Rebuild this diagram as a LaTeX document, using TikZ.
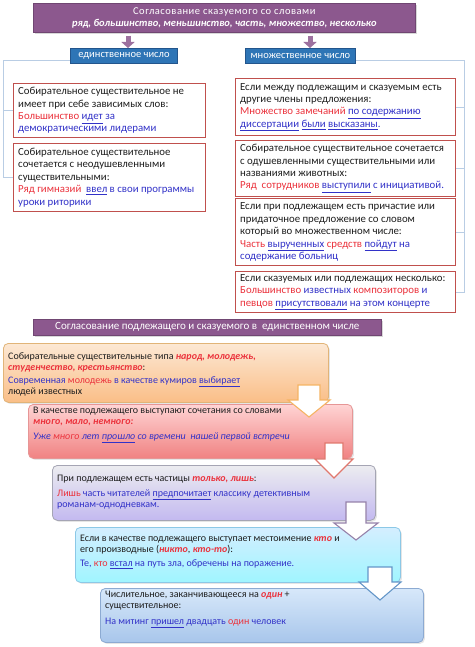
\documentclass[tikz,border=0pt]{standalone}
\usepackage{fontspec}
\setmainfont{Carlito}
\usetikzlibrary{shadows,arrows.meta}
\definecolor{hdrpurple}{RGB}{140,88,142}
\definecolor{lblblue}{RGB}{46,117,182}
\definecolor{lblborder}{RGB}{35,85,140}
\definecolor{brk}{RGB}{185,205,228}
\definecolor{boxred}{RGB}{192,80,77}
\definecolor{txtred}{RGB}{235,50,60}
\definecolor{txtblue}{RGB}{50,50,200}
\definecolor{txtdark}{RGB}{30,30,30}
\newcommand{\myred}[1]{\textcolor{txtred}{#1}}
\newcommand{\myblue}[1]{\textcolor{txtblue}{#1}}
\newcommand{\myri}[1]{\textcolor{txtred}{\textbf{\textit{#1}}}}
\newcommand{\myul}[1]{\textcolor{txtblue}{\underline{#1}}}
\begin{document}
\begin{tikzpicture}[x=1pt,y=-1pt,
  hdr/.style={fill=hdrpurple, draw=hdrpurple!80!black, line width=0.6pt, text=white, align=center, anchor=north west, inner sep=0pt,
    drop shadow={opacity=0.3, shadow xshift=2pt, shadow yshift=-2pt}},
  lbl/.style={fill=lblblue, draw=lblborder, line width=0.8pt, text=white, anchor=north west, inner sep=0pt, font=\fontsize{10.5}{12}\selectfont},
  ubox/.style={draw=boxred, line width=1.1pt, fill=white, anchor=north west, inner sep=0pt},
  utext/.style={anchor=west, inner sep=0pt, align=left, font=\fontsize{10.8}{12.4}\selectfont, text=txtdark},
  brkline/.style={draw=brk, line width=1pt},
  parrow/.style={draw=hdrpurple!85!white, line width=5pt, -{Triangle[width=13pt,length=6pt]}},
  lbox/.style={rounded corners=5pt, line width=0.8pt, anchor=north west, inner sep=0pt,
    drop shadow={opacity=0.2, shadow xshift=1.5pt, shadow yshift=-1.5pt}},
  ltext/.style={anchor=north west, inner sep=0pt, align=left, font=\fontsize{10}{11}\selectfont, text=txtdark},
  barrow/.style={fill=white, line width=1.1pt, line join=miter}
]
\useasboundingbox (0,0) rectangle (474,647);
\fill[white] (0,0) rectangle (474,647);

% top header
\node[hdr, minimum width=382pt, minimum height=29pt, font=\fontsize{10.5}{12}\selectfont] (top) at (33,3)
  {{\addfontfeatures{LetterSpace=5}Согласование сказуемого со словами}\\ \textbf{\textit{ряд, большинство, меньшинство, часть, множество, несколько}}};

% labels
\node[lbl, minimum width=107pt, minimum height=15pt] (lab1) at (70,48) {единственное число};
\node[lbl, minimum width=110pt, minimum height=15pt] (lab2) at (245,48) {множественное число};

\coordinate (a1) at (128,0);
\coordinate (a2) at (310,0);
\draw[parrow] ([yshift=-3pt]top.south -| a1) -- (a1 |- lab1.north);
\draw[parrow] ([yshift=-3pt]top.south -| a2) -- (a2 |- lab2.north);

% upper boxes
\node[ubox, minimum width=192pt, minimum height=54pt] (L1) at (13,83) {};
\node[utext] (L1t) at ([xshift=5pt]L1.west)
  {Собирательное существительное не\\
   имеет при себе зависимых слов:\\
   \myred{Большинство} \myul{идет} \myblue{за}\\
   \myblue{демократическими лидерами}};
\node[ubox, minimum width=192pt, minimum height=68pt] (L2) at (13,143) {};
\node[utext] (L2t) at ([xshift=5pt]L2.west)
  {Собирательное существительное\\
   сочетается с неодушевленными\\
   существительными:\\
   \myred{Ряд гимназий}\ \ \myul{ввел} \myblue{в свои программы}\\
   \myblue{уроки риторики}};

\node[ubox, minimum width=220pt, minimum height=57pt] (R1) at (235,78) {};
\node[utext] (R1t) at ([xshift=5pt]R1.west)
  {Если между подлежащим и сказуемым есть\\
   другие члены предложения:\\
   \myred{Множество замечаний}\ \myul{по содержанию}\\
   \myul{диссертации} \myul{были} \myul{высказаны}\myblue{.}};
\node[ubox, minimum width=220pt, minimum height=56pt] (R2) at (235,140) {};
\node[utext] (R2t) at ([xshift=5pt]R2.west)
  {Собирательное существительное сочетается\\
   с одушевленными существительными или\\
   названиями животных:\\
   \myred{Ряд\ \ сотрудников} \myul{выступили} \myblue{с инициативой.}};
\node[ubox, minimum width=220pt, minimum height=67pt] (R3) at (235,198) {};
\node[utext] (R3t) at ([xshift=5pt]R3.west)
  {Если при подлежащем есть причастие или\\
   придаточное предложение со словом\\
   который во множественном числе:\\
   \myred{Часть} \myul{вырученных} \myred{средств} \myul{пойдут} \myblue{на}\\
   \myblue{содержание больниц}};
\node[ubox, minimum width=220pt, minimum height=41pt] (R4) at (235,271) {};
\node[utext] (R4t) at ([xshift=5pt]R4.west)
  {Если сказуемых или подлежащих несколько:\\
   \myred{Большинство} \myblue{известных} \myred{композиторов} \myblue{и}\\
   \myred{певцов} \myul{присутствовали} \myblue{на этом концерте}};

% bracket lines
\coordinate (bl) at (3,61);
\coordinate (br) at (464,61);
\draw[brkline] (lab1.west |- bl) -- (bl) |- (L2.west);
\draw[brkline] (bl |- L1.west) -- (L1.west);
\draw[brkline] (lab2.east |- br) -- (br) |- (R4.east);
\draw[brkline] (br |- R1.east) -- (R1.east);
\draw[brkline] (br |- R2.east) -- (R2.east);
\draw[brkline] (br |- R3.east) -- (R3.east);

% middle header
\node[hdr, minimum width=348pt, minimum height=16pt, font=\fontsize{11}{12}\selectfont] (mid) at (33,319)
  {Согласование подлежащего и сказуемого в\ \ единственном числе};

% lower boxes
\node[lbox, draw={rgb,255:red,225;green,180;blue,120}, top color={rgb,255:red,252;green,232;blue,212}, bottom color={rgb,255:red,250;green,190;blue,135},
  minimum width=325pt, minimum height=59pt] (b1) at (3,343) {};
\node[lbox, draw={rgb,255:red,230;green,150;blue,150}, top color={rgb,255:red,255;green,212;blue,212}, middle color={rgb,255:red,255;green,196;blue,196}, bottom color={rgb,255:red,240;green,130;blue,130},
  minimum width=324pt, minimum height=54pt] (b2) at (28,404) {};
\node[lbox, draw={rgb,255:red,165;green,165;blue,180}, top color={rgb,255:red,236;green,236;blue,240}, bottom color={rgb,255:red,195;green,185;blue,240},
  minimum width=323pt, minimum height=55pt] (b3) at (52,465) {};
\node[lbox, draw={rgb,255:red,140;green,200;blue,230}, top color={rgb,255:red,212;green,238;blue,255}, bottom color={rgb,255:red,160;green,245;blue,255},
  minimum width=325pt, minimum height=55pt] (b4) at (75,527) {};
\node[lbox, draw={rgb,255:red,140;green,170;blue,210}, top color={rgb,255:red,215;green,232;blue,250}, middle color={rgb,255:red,205;green,200;blue,245}, bottom color={rgb,255:red,168;green,198;blue,235},
  minimum width=323pt, minimum height=54pt] (b5) at (100,588) {};

% lower texts
\node[ltext] (t1) at ([shift={(5,9)}]b1.north west)
  {Собирательные существительные типа \myri{народ, молодежь,}\\
   \myri{студенчество, крестьянство}:\\[2pt]
   \myblue{Современная} \myred{молодежь} \myblue{в качестве кумиров \underline{выбирает}}\\
   людей известных};
\node[ltext] (t2) at ([shift={(5,3)}]b2.north west)
  {В качестве подлежащего выступают сочетания со словами\\
   \myri{много, мало, немного:}\\[4pt]
   \textit{\myblue{Уже} \myred{много} \myblue{лет \underline{прошло} со времени\ \ нашей первой встречи}}};
\node[ltext] (t3) at ([shift={(5,10)}]b3.north west)
  {При подлежащем есть частицы \myri{только, лишь}:\\[4pt]
   \myred{Лишь} \myblue{часть читателей \underline{предпочитает} классику детективным}\\
   \myblue{романам-однодневкам.}};
\node[ltext] (t4) at ([shift={(5,8)}]b4.north west)
  {Если в качестве подлежащего выступает местоимение \myri{кто} и\\
   его производные (\myri{никто}, \myri{кто-то}):\\[3pt]
   \myblue{Те,} \myred{кто} \myblue{\underline{встал} на путь зла, обречены на поражение.}};
\node[ltext] (t5) at ([shift={(5,3)}]b5.north west)
  {Числительное, заканчивающееся на \myri{один} +\\
   существительное:\\[5pt]
   \myblue{На митинг \underline{пришел} двадцать} \myred{один} \myblue{человек}};

% block arrows
\draw[barrow, draw={rgb,255:red,245;green,180;blue,100}]
  (298,385) -- (320,385) -- (320,400) -- (330,400) -- (309,417) -- (288,400) -- (298,400) -- cycle;
\draw[barrow, draw={rgb,255:red,225;green,120;blue,110}]
  (325,443) -- (343,443) -- (343,459) -- (353,459) -- (334,478) -- (315,459) -- (325,459) -- cycle;
\draw[barrow, draw={rgb,255:red,150;green,130;blue,170}]
  (346,502) -- (366,502) -- (366,523) -- (378,523) -- (356,540) -- (334,523) -- (346,523) -- cycle;
\draw[barrow, draw={rgb,255:red,100;green,150;blue,200}]
  (368,567) -- (392,567) -- (392,582) -- (401,582) -- (380,600) -- (359,582) -- (368,582) -- cycle;
\end{tikzpicture}
\end{document}
